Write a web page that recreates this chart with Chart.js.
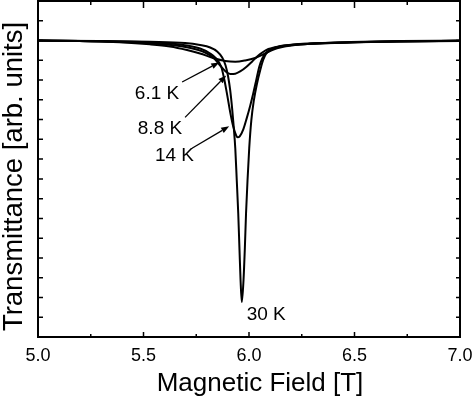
<!DOCTYPE html>
<html>
<head>
<meta charset="utf-8">
<script src="https://cdn.jsdelivr.net/npm/chart.js@4.4.1/dist/chart.umd.min.js"></script>
<style>
  html, body { margin: 0; padding: 0; background: #fff; }
  canvas { display: block; }
</style>
</head>
<body>
<canvas id="chart" width="474" height="399"></canvas>
<script>
// Magnetic field (T) and transmittance (arb. units)
const field30 = [5.00, 5.29, 5.53, 5.697, 5.768, 5.816, 5.849, 5.873, 5.889, 5.901, 5.911, 5.920, 5.927, 5.935, 5.942, 5.949, 5.955, 5.960, 5.966, 5.974, 5.980, 5.986, 5.993, 6.001, 6.011, 6.023, 6.037, 6.054, 6.068, 6.082, 6.115, 6.172, 6.291, 6.482, 6.719, 7.00]
const trans30 = [15.00, 14.975, 14.934, 14.874, 14.773, 14.646, 14.444, 14.141, 13.737, 13.182, 12.475, 11.566, 10.707, 9.545, 7.929, 6.263, 4.394, 2.879, 1.768, 2.879, 4.394, 6.263, 7.929, 9.545, 10.960, 11.970, 12.778, 13.535, 14.040, 14.343, 14.596, 14.747, 14.848, 14.924, 14.975, 15.00]

const field14 = [5.000, 5.293, 5.530, 5.673, 5.768, 5.816, 5.844, 5.868, 5.882, 5.897, 5.911, 5.925, 5.939, 5.946, 5.956, 5.973, 5.989, 6.006, 6.020, 6.034, 6.049, 6.063, 6.077, 6.101, 6.149, 6.244, 6.434, 6.719, 7.000]
const trans14 = [15.00, 14.965, 14.899, 14.798, 14.596, 14.343, 14.091, 13.687, 13.081, 12.222, 11.364, 10.657, 10.202, 10.101, 10.152, 10.505, 11.061, 11.717, 12.323, 12.980, 13.687, 14.091, 14.343, 14.545, 14.697, 14.798, 14.884, 14.949, 14.985]

const field88 = [5.000, 5.293, 5.530, 5.706, 5.792, 5.835, 5.863, 5.887, 5.911, 5.935, 5.958, 5.987, 6.015, 6.039, 6.063, 6.092, 6.149, 6.244, 6.434, 6.719, 7.000]
const trans88 = [15.00, 14.960, 14.859, 14.662, 14.394, 14.091, 13.737, 13.460, 13.308, 13.323, 13.434, 13.662, 13.939, 14.192, 14.394, 14.571, 14.722, 14.823, 14.899, 14.960, 14.990]

const field61 = [5.000, 5.197, 5.388, 5.530, 5.625, 5.706, 5.768, 5.830, 5.887, 5.935, 5.982, 6.029, 6.067, 6.110, 6.158, 6.244, 6.386, 6.624, 7.000]
const trans61 = [15.00, 14.970, 14.909, 14.808, 14.697, 14.520, 14.343, 14.116, 13.965, 13.924, 13.990, 14.116, 14.293, 14.520, 14.672, 14.798, 14.874, 14.939, 14.980]

// temperature labels and their arrows, in data coordinates
const labelText = ['6.1 K', '8.8 K', '14 K', '30 K']
const labelX = [5.459, 5.473, 5.554, 5.989]
const labelY = [12.32, 10.56, 9.19, 1.11]
const arrowFromX = [5.683, 5.697, 5.730]
const arrowFromY = [12.90, 11.11, 9.55]
const arrowToX = [5.859, 5.892, 5.906]
const arrowToY = [13.89, 13.23, 10.66]

const FONT = "'Liberation Sans', Arial, Helvetica, sans-serif"

function toPoints(xs, ys) {
    return xs.map((x, i) => ({ x: x, y: ys[i] }))
}

function curve(xs, ys) {
    return {
        data: toPoints(xs, ys),
        borderColor: '#000',
        borderWidth: 2,
        pointRadius: 0,
        fill: false,
        cubicInterpolationMode: 'monotone'
    }
}

// frame, inward ticks, axis titles, labels and arrows
const decorations = {
    id: 'decorations',
    afterDraw(chart) {
        const ctx = chart.ctx
        const { left, right, top, bottom } = chart.chartArea
        const xs = chart.scales.x
        const ys = chart.scales.y

        ctx.save()
        ctx.strokeStyle = '#000'
        ctx.fillStyle = '#000'
        ctx.lineWidth = 2
        ctx.strokeRect(left, top, right - left, bottom - top)

        ctx.lineWidth = 1.5
        ctx.beginPath()
        for (let i = 0; i <= 8; i++) {
            const v = 5 + i * 0.25
            const px = xs.getPixelForValue(v)
            const major = i % 2 === 0
            ctx.moveTo(px, bottom)
            ctx.lineTo(px, bottom - (major ? 5 : 3))
            ctx.moveTo(px, top)
            ctx.lineTo(px, top + (major ? 7 : 4))
        }
        for (let v = 1; v <= 16; v++) {
            const py = ys.getPixelForValue(v)
            ctx.moveTo(left, py)
            ctx.lineTo(left + 5, py)
            ctx.moveTo(right, py)
            ctx.lineTo(right - 4, py)
        }
        ctx.stroke()

        // temperature labels
        ctx.font = '19px ' + FONT
        ctx.textAlign = 'left'
        ctx.textBaseline = 'middle'
        for (let i = 0; i < labelText.length; i++) {
            ctx.fillText(labelText[i], xs.getPixelForValue(labelX[i]), ys.getPixelForValue(labelY[i]))
        }

        // arrows
        ctx.lineWidth = 1.3
        for (let i = 0; i < arrowFromX.length; i++) {
            const x1 = xs.getPixelForValue(arrowFromX[i])
            const y1 = ys.getPixelForValue(arrowFromY[i])
            const x2 = xs.getPixelForValue(arrowToX[i])
            const y2 = ys.getPixelForValue(arrowToY[i])
            const a = Math.atan2(y2 - y1, x2 - x1)
            const hl = 8, hw = 3
            const bx = x2 - hl * Math.cos(a)
            const by = y2 - hl * Math.sin(a)
            ctx.beginPath()
            ctx.moveTo(x1, y1)
            ctx.lineTo(bx, by)
            ctx.stroke()
            ctx.beginPath()
            ctx.moveTo(x2, y2)
            ctx.lineTo(bx + hw * Math.sin(a), by - hw * Math.cos(a))
            ctx.lineTo(bx - hw * Math.sin(a), by + hw * Math.cos(a))
            ctx.closePath()
            ctx.fill()
        }

        // axis titles
        ctx.textBaseline = 'alphabetic'
        ctx.textAlign = 'center'
        ctx.font = '26px ' + FONT
        ctx.fillText('Magnetic Field [T]', 260, 391)

        ctx.translate(22, 176.5)
        ctx.rotate(-Math.PI / 2)
        ctx.font = '27.5px ' + FONT
        ctx.fillText('Transmittance [arb. units]', 0, 0)
        ctx.restore()
    }
}

new Chart(document.getElementById('chart'), {
    type: 'line',
    data: {
        datasets: [
            curve(field30, trans30),
            curve(field14, trans14),
            curve(field88, trans88),
            curve(field61, trans61)
        ]
    },
    options: {
        responsive: false,
        animation: false,
        layout: {
            padding: { top: 1, right: 14, bottom: 0, left: 0 }
        },
        plugins: {
            legend: { display: false },
            tooltip: { enabled: false }
        },
        scales: {
            x: {
                type: 'linear',
                min: 5,
                max: 7,
                afterFit: (scale) => {
                    scale.height = 62
                    scale.paddingLeft = 0
                    scale.paddingRight = 0
                },
                grid: { display: false, drawTicks: false },
                border: { display: false },
                ticks: {
                    stepSize: 0.5,
                    padding: 8,
                    color: '#000',
                    font: { family: FONT, size: 18 },
                    maxRotation: 0,
                    callback: (v) => v.toFixed(1)
                }
            },
            y: {
                min: 0,
                max: 17,
                afterFit: (scale) => {
                    scale.width = 38
                    scale.paddingTop = 0
                    scale.paddingBottom = 0
                },
                grid: { display: false, drawTicks: false },
                border: { display: false },
                ticks: { display: false, stepSize: 1 }
            }
        }
    },
    plugins: [decorations]
})
</script>
</body>
</html>
